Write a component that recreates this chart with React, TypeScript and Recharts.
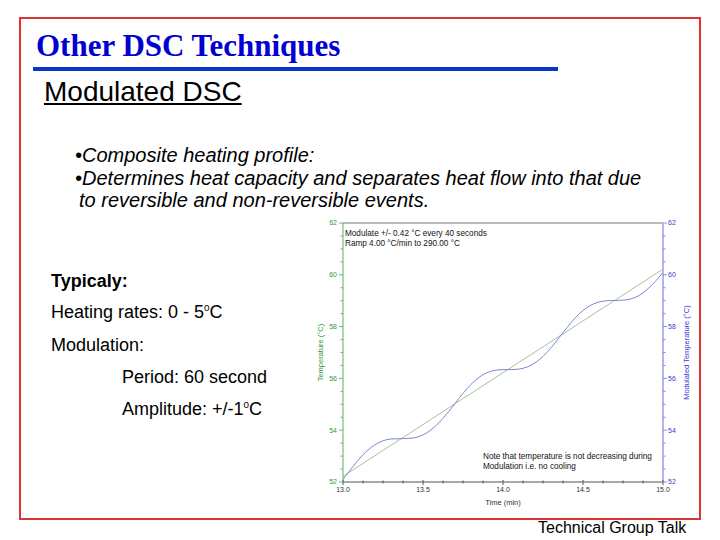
import React from 'react'
import { LineChart, Line, XAxis, YAxis, ReferenceLine } from 'recharts'

// time (min) and temperatures (°C)
const modTime = [
  13.0, 13.05, 13.1, 13.15, 13.2, 13.25, 13.3, 13.35, 13.4, 13.45,
  13.5, 13.55, 13.6, 13.65, 13.7, 13.75, 13.8, 13.85, 13.9, 13.95,
  14.0, 14.05, 14.1, 14.15, 14.2, 14.25, 14.3, 14.35, 14.4, 14.45,
  14.5, 14.55, 14.6, 14.65, 14.7, 14.75, 14.8, 14.85, 14.9, 14.95, 15.0,
]
const modTemp = [
  52.1, 52.5, 52.88, 53.2, 53.44, 53.59, 53.66, 53.67, 53.68, 53.71,
  53.82, 54.01, 54.29, 54.64, 55.03, 55.42, 55.77, 56.04, 56.22, 56.31,
  56.34, 56.34, 56.36, 56.44, 56.6, 56.85, 57.18, 57.57, 57.96, 58.33,
  58.62, 58.83, 58.95, 59.0, 59.01, 59.02, 59.07, 59.2, 59.43, 59.73, 60.1,
]
const rampTime = [13.0, 15.0]
const rampTemp = [52.22, 60.22]

const xTicks = [
  13.0, 13.125, 13.25, 13.375, 13.5, 13.625, 13.75, 13.875, 14.0,
  14.125, 14.25, 14.375, 14.5, 14.625, 14.75, 14.875, 15.0,
]
const yTicks = [
  52, 52.5, 53, 53.5, 54, 54.5, 55, 55.5, 56, 56.5, 57,
  57.5, 58, 58.5, 59, 59.5, 60, 60.5, 61, 61.5, 62,
]

const modData = modTime.map((t, i) => ({ t, v: modTemp[i] }))
const rampData = rampTime.map((t, i) => ({ t, v: rampTemp[i] }))

const SANS = '"Liberation Sans", Arial, sans-serif'
const SERIF = '"Liberation Serif", "Times New Roman", serif'
const GAP = 6

const GREEN = '#2f9a3a'
const BLUE = '#3a3acc'

function LeftTick({ x, y, payload }: any) {
  const major = payload.value % 2 === 0
  const ax = x + GAP
  return (
    <g>
      <line x1={ax - (major ? 4 : 2.5)} x2={ax} y1={y} y2={y} stroke="#6cb36c" />
      {major && (
        <text x={ax - 6} y={y} dy="0.35em" textAnchor="end" fontSize={7} fill={GREEN} fontFamily={SANS}>
          {payload.value}
        </text>
      )}
    </g>
  )
}

function RightTick({ x, y, payload }: any) {
  const major = payload.value % 2 === 0
  const ax = x - GAP
  return (
    <g>
      <line x1={ax} x2={ax + (major ? 4 : 2.5)} y1={y} y2={y} stroke="#8a8ad8" />
      {major && (
        <text x={ax + 5} y={y} dy="0.35em" textAnchor="start" fontSize={7} fill={BLUE} fontFamily={SANS}>
          {payload.value}
        </text>
      )}
    </g>
  )
}

function BottomTick({ x, y, payload }: any) {
  const major = Math.round(payload.value * 2) === payload.value * 2
  const ay = y - GAP
  return (
    <g>
      <line x1={x} x2={x} y1={ay - (major ? 2 : 1.5)} y2={ay + (major ? 3 : 1.5)} stroke="#555" />
      {major && (
        <text x={x} y={ay + 5} dy="0.75em" textAnchor="middle" fontSize={7} fill="#333" fontFamily={SANS}>
          {payload.value.toFixed(1)}
        </text>
      )}
    </g>
  )
}

const abs = (left: number, top: number, extra: React.CSSProperties = {}): React.CSSProperties => ({
  position: 'absolute',
  left,
  top,
  lineHeight: 1,
  whiteSpace: 'nowrap',
  ...extra,
})

export default function App() {
  const body: React.CSSProperties = { fontFamily: SANS, fontSize: 18, color: '#000' }
  const bullet: React.CSSProperties = { fontFamily: SANS, fontSize: 20, fontStyle: 'italic', color: '#000' }
  const note: React.CSSProperties = { fontFamily: SANS, fontSize: 8.2, color: '#111' }
  const sup: React.CSSProperties = { fontSize: '0.55em', verticalAlign: '0.7em' }

  return (
    <div style={{ position: 'absolute', left: 0, top: 0, width: 720, height: 540, background: '#fff', overflow: 'hidden' }}>
      <div
        style={{
          position: 'absolute',
          left: 19,
          top: 17,
          width: 682,
          height: 503,
          border: '2px solid #e03434',
          boxSizing: 'border-box',
        }}
      />

      <div style={abs(36, 30, { fontFamily: SERIF, fontSize: 31, fontWeight: 'bold', color: '#0000d0' })}>
        Other DSC Techniques
      </div>
      <div style={{ position: 'absolute', left: 33, top: 67, width: 525, height: 4, background: '#0836c8' }} />
      <div style={abs(44, 78, { fontFamily: SANS, fontSize: 28, textDecoration: 'underline', color: '#000' })}>
        Modulated DSC
      </div>

      <div style={abs(75, 145, bullet)}>•Composite heating profile:</div>
      <div style={abs(75, 168, bullet)}>•Determines heat capacity and separates heat flow into that due</div>
      <div style={abs(79, 190, bullet)}>to reversible and non-reversible events.</div>

      <div style={abs(51, 272, { ...body, fontWeight: 'bold' })}>Typicaly:</div>
      <div style={abs(51, 303, body)}>
        Heating rates: 0 - 5<span style={sup}>0</span>C
      </div>
      <div style={abs(51, 336, body)}>Modulation:</div>
      <div style={abs(122, 368, body)}>Period: 60 second</div>
      <div style={abs(122, 400, body)}>
        Amplitude: +/-1<span style={sup}>0</span>C
      </div>

      <div style={abs(538, 520, { fontFamily: SANS, fontSize: 16, color: '#000' })}>Technical Group Talk</div>

      <div style={{ position: 'absolute', left: 0, top: 0 }}>
        <LineChart width={720} height={540} margin={{ top: 223, right: 27, bottom: 34, left: 313 }}>
          <XAxis
            dataKey="t"
            type="number"
            domain={[13, 15]}
            ticks={xTicks}
            interval={0}
            height={24}
            tickSize={0}
            tickMargin={GAP}
            tick={<BottomTick />}
            axisLine={{ stroke: '#555' }}
            tickLine={false}
            label={{ value: 'Time (min)', position: 'insideBottom', offset: 1, fontSize: 7.5, fill: '#333', fontFamily: SANS }}
          />
          <YAxis
            yAxisId="left"
            type="number"
            domain={[52, 62]}
            ticks={yTicks}
            interval={0}
            width={30}
            tickSize={0}
            tickMargin={GAP}
            tick={<LeftTick />}
            tickLine={false}
            axisLine={{ stroke: '#5fb05f' }}
            label={{
              value: 'Temperature (°C)',
              angle: -90,
              position: 'insideLeft',
              offset: 7,
              fontSize: 7.5,
              fill: GREEN,
              fontFamily: SANS,
              style: { textAnchor: 'middle' },
            }}
          />
          <YAxis
            yAxisId="right"
            orientation="right"
            type="number"
            domain={[52, 62]}
            ticks={yTicks}
            interval={0}
            width={30}
            tickSize={0}
            tickMargin={GAP}
            tick={<RightTick />}
            tickLine={false}
            axisLine={{ stroke: '#b4b4f0', strokeWidth: 2 }}
            label={{
              value: 'Modulated Temperature (°C)',
              angle: -90,
              position: 'insideRight',
              offset: 7,
              fontSize: 7.5,
              fill: BLUE,
              fontFamily: SANS,
              style: { textAnchor: 'middle' },
            }}
          />
          <ReferenceLine yAxisId="left" y={62} stroke="#777" />
          <Line
            yAxisId="left"
            data={rampData}
            dataKey="v"
            type="linear"
            stroke="#a3c496"
            strokeWidth={1}
            dot={false}
            isAnimationActive={false}
          />
          <Line
            yAxisId="right"
            data={modData}
            dataKey="v"
            type="monotone"
            stroke="#8585d6"
            strokeWidth={1}
            dot={false}
            isAnimationActive={false}
          />
        </LineChart>
      </div>

      <div style={abs(345, 230, note)}>Modulate +/- 0.42 °C every 40 seconds</div>
      <div style={abs(345, 240, note)}>Ramp 4.00 °C/min to 290.00 °C</div>
      <div style={abs(483, 453, note)}>Note that temperature is not decreasing during</div>
      <div style={abs(483, 463, note)}>Modulation i.e. no cooling</div>
    </div>
  )
}
